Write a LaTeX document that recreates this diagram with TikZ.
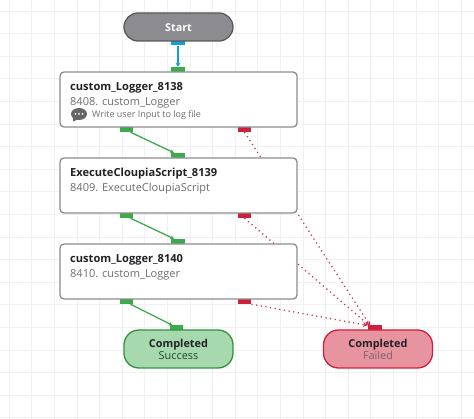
\documentclass[tikz,border=0pt]{standalone}
\usepackage{fontspec}
\setmainfont{Open Sans}
\usetikzlibrary{arrows.meta,shapes.callouts}
\definecolor{gridc}{HTML}{F1F1F3}
\definecolor{boxb}{HTML}{8C8C90}
\definecolor{portg}{HTML}{3CAB4B}
\definecolor{portr}{HTML}{D01F3A}
\definecolor{portb}{HTML}{12A0D8}
\definecolor{titlec}{HTML}{222226}
\definecolor{subc}{HTML}{6E6E73}
\tikzset{
 task/.style={draw=boxb,line width=1.3pt,fill=white,rounded corners=4pt,minimum width=237pt,minimum height=55pt,inner sep=0pt},
 startn/.style={draw=black!65,line width=1.3pt,fill=boxb,rounded corners=14pt,minimum width=109pt,minimum height=28pt,inner sep=0pt,text=white,text height=10pt,font=\fontsize{10.8}{12}\selectfont\bfseries},
 okn/.style={draw=portg!85!black,line width=1.3pt,fill=portg!45!white,rounded corners=15pt,minimum width=109pt,minimum height=38pt,inner sep=0pt,align=center},
 badn/.style={draw=portr,line width=1.3pt,fill=portr!48!white,rounded corners=15pt,minimum width=109pt,minimum height=38pt,inner sep=0pt,align=center},
 port/.style={minimum width=13.5pt,minimum height=5pt,inner sep=0pt,draw=none},
 ttl/.style={anchor=west,inner sep=0pt,text=titlec,font=\fontsize{11.1}{13}\selectfont\bfseries},
 subt/.style={anchor=west,inner sep=0pt,text=subc,font=\fontsize{11}{13}\selectfont},
 note/.style={anchor=west,inner sep=0pt,text=subc,font=\fontsize{9}{11}\selectfont},
 okarrow/.style={draw=portg,line width=1.3pt,-{Stealth[length=4pt,width=4pt]}},
 inarrow/.style={draw=portb,line width=1.3pt,-{Stealth[length=4pt,width=5pt]}},
 badarrow/.style={draw=portr!90!white,line width=1.3pt,dash pattern=on 1.2pt off 3.5pt,-{Stealth[length=4pt,width=5pt,sep=0pt]}},
}
\begin{document}
\begin{tikzpicture}[x=1pt,y=-1pt]
\useasboundingbox (0,0) rectangle (474,419);
\fill[white] (0,0) rectangle (474,419);
\foreach \i in {0,...,20} {\draw[gridc,line width=.6pt] ({9+22.6*\i},0) -- ({9+22.6*\i},419);}
\foreach \i in {0,...,18} {\draw[gridc,line width=.6pt] (0,{11+22.6*\i}) -- (474,{11+22.6*\i});}
% ports
\node[port,fill=portb] (p0) at (178,43) {};
\node[port,fill=portg] (p1t) at (178,69.5) {};
\node[port,fill=portg] (p1g) at (126.5,129.5) {};
\node[port,fill=portr] (p1r) at (244.5,129.5) {};
\node[port,fill=portg] (p2t) at (178,155.5) {};
\node[port,fill=portg] (p2g) at (126.5,215.5) {};
\node[port,fill=portr] (p2r) at (244.5,215.5) {};
\node[port,fill=portg] (p3t) at (178,241.5) {};
\node[port,fill=portg] (p3g) at (126.5,301.5) {};
\node[port,fill=portr] (p3r) at (244.5,301.5) {};
\node[port,fill=portg] (p4t) at (176.5,328) {};
\node[port,fill=portr] (p5t) at (375,328) {};
% connectors under the boxes
\draw[inarrow] (p0.south) -- (p1t.north);
\draw[okarrow] ([xshift=-3pt]p1g.south east) -- ([xshift=3pt]p2t.north west);
\draw[okarrow] ([xshift=-3pt]p2g.south east) -- ([xshift=3pt]p3t.north west);
\draw[okarrow] ([xshift=-3pt]p3g.south east) -- ([xshift=3pt]p4t.north west);
\draw[badarrow] (p1r.south) -- ([xshift=2pt]p5t.north west);
\draw[badarrow] (p2r.south) -- ([xshift=1pt]p5t.north west);
\draw[badarrow] (p3r.south east) -- ([xshift=-1pt]p5t.north west);
% nodes
\node[startn] (start) at (178.5,27) {Start};
\node[task] (b1) at (178.5,99.5) {};
\node[task] (b2) at (178.5,185.5) {};
\node[task] (b3) at (178.5,271.5) {};
\node[okn] (ok) at (178.5,349) {\fontsize{10.9}{13}\selectfont\bfseries\color{titlec}Completed\\[0pt]\fontsize{10.9}{13}\selectfont\color{black!55!portg}Success};
\node[badn] (bad) at (378,349) {\fontsize{10.9}{13}\selectfont\bfseries\color{titlec}Completed\\[0pt]\fontsize{10.9}{13}\selectfont\color{subc!90!portr}Failed};
% texts
\node[ttl] (t1) at (70,87.5) {custom\_Logger\_8138};
\node[subt] (s1) at (70,102.5) {8408. custom\_Logger};
\node[note] (n1) at (92,115) {Write user Input to log file};
\node[ttl] (t2) at (70,173.5) {ExecuteCloupiaScript\_8139};
\node[subt] (s2) at (70,188.5) {8409. ExecuteCloupiaScript};
\node[ttl] (t3) at (70,259.5) {custom\_Logger\_8140};
\node[subt] (s3) at (70,274.5) {8410. custom\_Logger};
% comment icon
\fill[black!60] (79,114) ellipse (8pt and 6pt);
\fill[black!60] (73,118) -- (73,121.5) -- (79,119) -- cycle;
\foreach \dx in {-3.5,0,3.5} {\fill[white] (79+\dx,114) circle (1pt);}
\end{tikzpicture}
\end{document}
